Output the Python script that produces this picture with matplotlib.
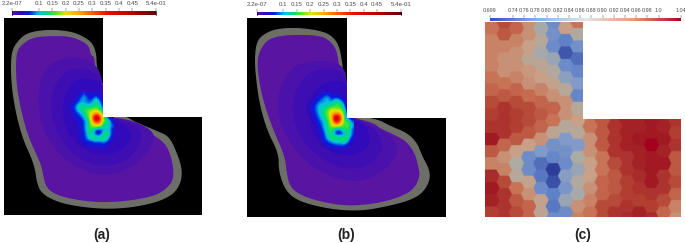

import numpy as np
import matplotlib
matplotlib.use("Agg")
import matplotlib.pyplot as plt
from matplotlib.colors import LinearSegmentedColormap, ListedColormap, Normalize
from matplotlib.patches import Polygon

W, H = 685, 243

# ---------- colour scales ----------
scale_stops = [(0.0, (92, 22, 160)), (0.03, (48, 10, 188)), (0.065, (5, 30, 225)), (0.1, (0, 195, 225)),
               (0.135, (0, 220, 120)), (0.165, (90, 230, 30)), (0.2, (225, 230, 0)), (0.25, (255, 170, 0)),
               (0.3, (255, 90, 0)), (0.36, (240, 10, 0)), (0.45, (185, 0, 0)), (0.54, (105, 0, 0))]
heat_cmap = LinearSegmentedColormap.from_list("heat", [(round(v / 0.54, 6), tuple(c / 255 for c in rgb)) for v, rgb in scale_stops], N=512)
heat_norm = Normalize(0, 0.54)
_lut = heat_cmap(np.linspace(0, 1, 512))
_lut[:, 3] = np.clip((np.linspace(0, 0.54, 512) - 0.018) / 0.022, 0, 1)
heat_overlay = ListedColormap(_lut)

cell_stops = [(0.699, (38, 52, 148)), (0.78, (96, 130, 200)), (0.83, (130, 155, 200)), (0.865, (172, 172, 165)),
              (0.89, (200, 160, 135)), (0.92, (200, 115, 85)), (0.96, (178, 62, 50)), (1.0, (160, 25, 35)), (1.04, (165, 0, 30))]
cell_cmap = LinearSegmentedColormap.from_list("cells", [(round((v - 0.699) / 0.341, 6), tuple(c / 255 for c in rgb)) for v, rgb in cell_stops], N=512)
bar_c_cmap = LinearSegmentedColormap.from_list("cw", [(0.23, 0.30, 0.75), (0.55, 0.68, 0.95), (0.9, 0.9, 0.9), (0.93, 0.6, 0.5), (0.705, 0.015, 0.15)])

# ---------- panel (a) outlines (3x reference crop coordinates) ----------
a_grey = [(60,118),(85,100),(130,92),(180,92),(225,100),(255,115),(275,130),(287,160),(288,200),(298,240),(312,260),(312,346),(375,350),(400,365),(430,378),(470,395),(505,410),(525,450),(543,500),(543,540),(525,575),(490,597),(440,612),(380,622),(310,625),(230,617),(170,603),(125,578),(112,545),(108,510),(95,470),(72,420),(52,350),(38,270),(34,200),(38,150)]
a_purple = [(70,130),(100,112),(150,108),(210,109),(250,125),(268,140),(272,165),(283,170),(285,200),(295,250),(312,270),(312,348),(390,362),(400,380),(430,390),(460,405),(495,430),(510,460),(520,500),(520,540),(500,565),(470,585),(420,597),(360,605),(290,607),(220,598),(170,585),(140,565),(130,530),(125,500),(110,465),(85,410),(65,340),(50,260),(47,190),(52,150)]
a_bands = [
    [(290,190),(230,170),(170,180),(130,210),(110,300),(130,400),(200,490),(300,530),(390,510),(450,450),(470,400),(400,360),(312,350),(312,260)],
    [(290,215),(220,200),(170,240),(150,300),(160,380),(210,460),(290,500),(370,490),(420,440),(430,390),(380,365),(312,350),(312,260)],
    [(300,245),(240,230),(200,270),(185,320),(200,400),(250,450),(320,470),(380,440),(400,400),(360,365),(312,350),(312,270)],
]
a_hot = [
    [.02,.02,.03,.04,.08,.04,.04,.05,.03,.03,0,0],
    [.02,.03,.04,.07,.11,.07,.05,.11,.05,.03,0,0],
    [.02,.04,.05,.09,.09,.07,.09,.14,.09,.04,0,0],
    [.03,.05,.09,.13,.13,.11,.11,.15,.11,.05,0,0],
    [.03,.05,.08,.13,.14,.17,.18,.19,.16,.07,.02,0],
    [.03,.04,.06,.08,.12,.17,.21,.30,.24,.12,.04,.02],
    [.02,.03,.05,.06,.09,.14,.24,.52,.36,.16,.06,.04],
    [.02,.03,.04,.05,.07,.11,.21,.34,.30,.14,.17,.05],
    [.02,.03,.03,.05,.07,.13,.18,.19,.20,.09,.12,.08],
    [.02,.02,.03,.04,.07,.12,.15,.06,.05,.09,.13,.05],
    [.02,.02,.03,.04,.06,.11,.14,.05,.05,.14,.15,.05],
    [.02,.02,.03,.04,.06,.10,.14,.15,.14,.16,.11,.04],
    [.02,.02,.02,.03,.05,.06,.06,.08,.07,.09,.06,.03],
    [0,.02,.02,.02,.03,.04,.05,.04,.05,.05,.03,.02],
]

# ---------- panel (b) ----------
b_grey = [(80,130),(100,105),(140,88),(200,85),(260,92),(300,105),(325,135),(335,190),(340,240),(354,265),(354,348),(440,358),(480,380),(530,400),(560,430),(575,470),(597,510),(597,545),(572,582),(530,602),(470,617),(400,630),(320,628),(240,612),(190,592),(163,560),(148,510),(148,460),(113,390),(93,320),(83,260),(76,190)]
b_purple = [(85,160),(110,120),(150,107),(210,104),(270,107),(300,122),(320,150),(328,200),(335,245),(354,270),(354,350),(430,368),(450,385),(495,405),(530,425),(555,460),(565,500),(570,530),(550,570),(500,595),(430,612),(350,618),(270,605),(210,585),(180,560),(170,520),(165,470),(130,390),(105,320),(90,260),(82,200)]
b_bands = [
    [(340,190),(260,180),(190,195),(150,260),(140,330),(170,420),(240,500),(340,545),(420,540),(490,490),(510,430),(440,380),(354,350),(354,260)],
    [(340,210),(260,205),(210,240),(185,310),(200,400),(260,470),(340,510),(420,500),(460,450),(450,400),(400,365),(354,350),(354,270)],
    [(345,240),(280,245),(245,285),(235,345),(250,410),(300,460),(370,470),(420,440),(420,395),(390,365),(354,350),(354,280)],
]
b_hot = [
    [.02,.02,.03,.03,.05,.06,.04,.04,.03,.03,0,0],
    [.02,.03,.04,.06,.09,.11,.05,.08,.06,.03,0,0],
    [.03,.04,.06,.09,.09,.10,.09,.15,.12,.07,0,0],
    [.03,.05,.08,.11,.11,.12,.14,.16,.15,.11,0,0],
    [.03,.05,.08,.11,.13,.17,.21,.18,.19,.14,.02,0],
    [.03,.04,.07,.10,.14,.17,.24,.29,.27,.16,.04,.02],
    [.02,.03,.06,.09,.12,.16,.23,.53,.36,.16,.07,.04],
    [.02,.03,.05,.07,.10,.14,.21,.37,.29,.15,.17,.08],
    [.02,.02,.04,.06,.10,.14,.19,.20,.20,.13,.18,.09],
    [.02,.02,.03,.05,.08,.14,.15,.07,.06,.15,.14,.07],
    [.02,.02,.02,.04,.07,.12,.15,.05,.06,.06,.17,.07],
    [.02,.02,.02,.04,.06,.11,.15,.16,.15,.17,.13,.05],
    [.02,.02,.02,.03,.05,.07,.09,.11,.10,.14,.08,.03],
    [0,.02,.02,.02,.03,.04,.05,.06,.06,.06,.04,.02],
]
band_values = [0.012, 0.021, 0.03]
base_value = 0.003

# ---------- panel (c): cell values, one list per column of the staggered cell lattice ----------
cell_col_x = [65, 102, 139, 176, 213, 250, 287, 324, 361, 398, 435, 472, 509, 546, 583, 620]
cell_col_y0 = [85, 66, 85, 66, 85, 66, 85, 66, 381, 362, 381, 362, 381, 362, 381, 362]
cell_cols = [
    [.92,.91,.91,.91,.92,.93,.95,.96,.97,1.0,.94,.91,.98,1.0,.99,.96],
    [.95,.94,.91,.90,.90,.92,.94,.97,.97,.97,.93,.90,.91,.95,.97,.97,.97],
    [.93,.91,.90,.90,.91,.93,.95,.96,.96,.94,.89,.865,.875,.92,.94,.95],
    [.90,.90,.89,.88,.895,.90,.925,.95,.95,.94,.89,.80,.80,.885,.90,.93,.93],
    [.86,.875,.86,.88,.89,.91,.93,.94,.93,.90,.83,.76,.77,.80,.885,.88],
    [.80,.81,.80,.85,.87,.885,.90,.93,.92,.88,.81,.79,.71,.73,.78,.77,.80],
    [.89,.78,.735,.80,.84,.875,.90,.90,.875,.83,.81,.80,.835,.82,.85,.80],
    [.92,.87,.81,.76,.79,.83,.79,.875,.89,.875,.83,.865,.85,.87,.86,.90,.91],
    [.92,.90,.90,.89,.89,.90,.91,.92],
    [.94,.94,.94,.92,.92,.93,.93,.95,.95],
    [.97,.97,.97,.95,.94,.94,.95,.97],
    [.99,.99,.99,.97,.97,.96,.96,.97,.98],
    [.99,1.0,.99,.99,.98,.97,.96,.99],
    [1.0,1.0,1.04,1.0,1.0,1.0,.97,.96,.98],
    [.99,1.0,.99,1.0,.97,.97,.95,.93],
    [.97,.96,.97,.94,.94,.95,.93,.91,.90],
]

# ---------- colour bar ticks ----------
ticks_ab = [0.0, 0.1, 0.15, 0.2, 0.25, 0.3, 0.35, 0.4, 0.45, 0.54]
labels_ab = ["2.2e-07", "0.1", "0.15", "0.2", "0.25", "0.3", "0.35", "0.4", "0.45", "5.4e-01"]
ticks_c = [0.699, 0.74, 0.76, 0.78, 0.80, 0.82, 0.84, 0.86, 0.88, 0.90, 0.92, 0.94, 0.96, 0.98, 1.0, 1.04]
labels_c = ["0.699", "0.74", "0.76", "0.78", "0.80", "0.82", "0.84", "0.86", "0.88", "0.90", "0.92", "0.94", "0.96", "0.98", "1.0", "1.04"]
panel_letters = ["(a)", "(b)", "(c)"]

plt.rcParams["font.family"] = ["Liberation Sans", "DejaVu Sans"]
fig = plt.figure(figsize=(W / 100, H / 100), dpi=100)
ax = fig.add_axes([0, 0, 1, 1])
ax.set_xlim(0, W)
ax.set_ylim(H, 0)
ax.axis("off")


def crop(points, x0):
    return [(x0 + x / 3, y / 3) for x, y in points]


def rounded(points, x0, n=2):
    """Chaikin corner cutting: the outlines were read as sparse vertices of smooth curves."""
    p = np.array(crop(points, x0), dtype=float)
    for _ in range(n):
        q = np.roll(p, -1, axis=0)
        p = np.column_stack([0.75 * p + 0.25 * q, 0.25 * p + 0.75 * q]).reshape(-1, 2)
    return p


def l_shape(x0, x1, xn, y0, yn, y1):
    return [(x0, y0), (xn, y0), (xn, yn), (x1, yn), (x1, y1), (x0, y1)]


def heat_panel(x0, outline, grey, purple, bands, hot, hot_x0):
    frame = Polygon(outline, closed=True, fc="black", ec="none", zorder=1)
    ax.add_patch(frame)
    grey_col = (0.43, 0.43, 0.41)
    g = Polygon(rounded(grey, x0), closed=True, fc=grey_col, ec=grey_col, lw=1.0, zorder=2)
    ax.add_patch(g)
    g.set_clip_path(frame)
    body = Polygon(rounded(purple, x0), closed=True, fc=heat_cmap(heat_norm(base_value)), ec="none", zorder=3)
    ax.add_patch(body)
    body.set_clip_path(frame)
    for pts, v in zip(bands, band_values):
        b = Polygon(rounded(pts, x0), closed=True, fc=heat_cmap(heat_norm(v)), ec="none", zorder=4)
        ax.add_patch(b)
        b.set_clip_path(frame)
    im = ax.imshow(np.array(hot), cmap=heat_overlay, norm=heat_norm, interpolation="bicubic",
                   interpolation_stage="data", extent=(hot_x0, hot_x0 + 48, 148, 92), zorder=5, aspect="auto")
    im.set_clip_path(frame)


heat_panel(0, l_shape(3.7, 201.6, 102.7, 18.3, 117.2, 215.2), a_grey, a_purple, a_bands, a_hot, 66)
heat_panel(230, l_shape(247, 446, 346.7, 18.3, 117.7, 217), b_grey, b_purple, b_bands, b_hot, 306)

# panel (c): each pixel takes the value of its nearest cell centre
cx, cy, cv = [], [], []
for x, y0, col in zip(cell_col_x, cell_col_y0, cell_cols):
    for j, v in enumerate(col):
        cx.append(x / 3 + 470)
        cy.append((y0 + 37 * j) / 3)
        cv.append(v)
cx, cy, cv = np.array(cx), np.array(cy), np.array(cv)
gx, gy = np.meshgrid(np.arange(485, 682, 0.5), np.arange(21.5, 218, 0.5))
nearest = np.argmin((gx[..., None] - cx) ** 2 + (gy[..., None] - cy) ** 2, axis=-1)
im_c = ax.imshow(cv[nearest], cmap=cell_cmap, vmin=0.699, vmax=1.04, interpolation="bilinear",
                 extent=(485, 681, 217.2, 21.7), zorder=1, aspect="auto")
clip_c = Polygon(l_shape(485, 681, 583.3, 21.7, 119.3, 217.2), closed=True, fc="none", ec="none")
ax.add_patch(clip_c)
im_c.set_clip_path(clip_c)
ax.set_xlim(0, W)
ax.set_ylim(H, 0)


def colorbar(x0, x1, y0, y1, vmin, vmax, cmap, ticks, labels, fs, capped):
    cax = fig.add_axes([x0 / W, 1 - y1 / H, (x1 - x0) / W, (y1 - y0) / H])
    cax.imshow(np.linspace(vmin, vmax, 400)[None, :], cmap=cmap, vmin=vmin, vmax=vmax, aspect="auto",
               extent=(vmin, vmax, 0, 1), interpolation="bilinear")
    cax.set_yticks([])
    cax.set_xticks(ticks)
    cax.set_xticklabels(labels, fontsize=fs, color="#4a4a4a")
    cax.xaxis.tick_top()
    cax.tick_params(axis="x", length=2.2, width=0.35, color="#555555", pad=1.2, direction="out")
    for name, s in cax.spines.items():
        s.set_visible(capped and name in ("left", "right"))
        s.set_linewidth(0.5)


colorbar(12.3, 156.3, 11.2, 14.8, 0, 0.54, heat_cmap, ticks_ab, labels_ab, 4.4, True)
colorbar(256.7, 401.3, 11.8, 15.4, 0, 0.54, heat_cmap, ticks_ab, labels_ab, 4.4, True)
colorbar(490, 681, 17.7, 20.7, 0.699, 1.04, bar_c_cmap, ticks_c, labels_c, 3.9, False)

for x, s in zip([101.5, 346, 583], panel_letters):
    ax.text(x, 235, s, ha="center", va="center", fontsize=10, fontweight="bold", color="#222222")

fig.savefig("out.png", dpi=100)
